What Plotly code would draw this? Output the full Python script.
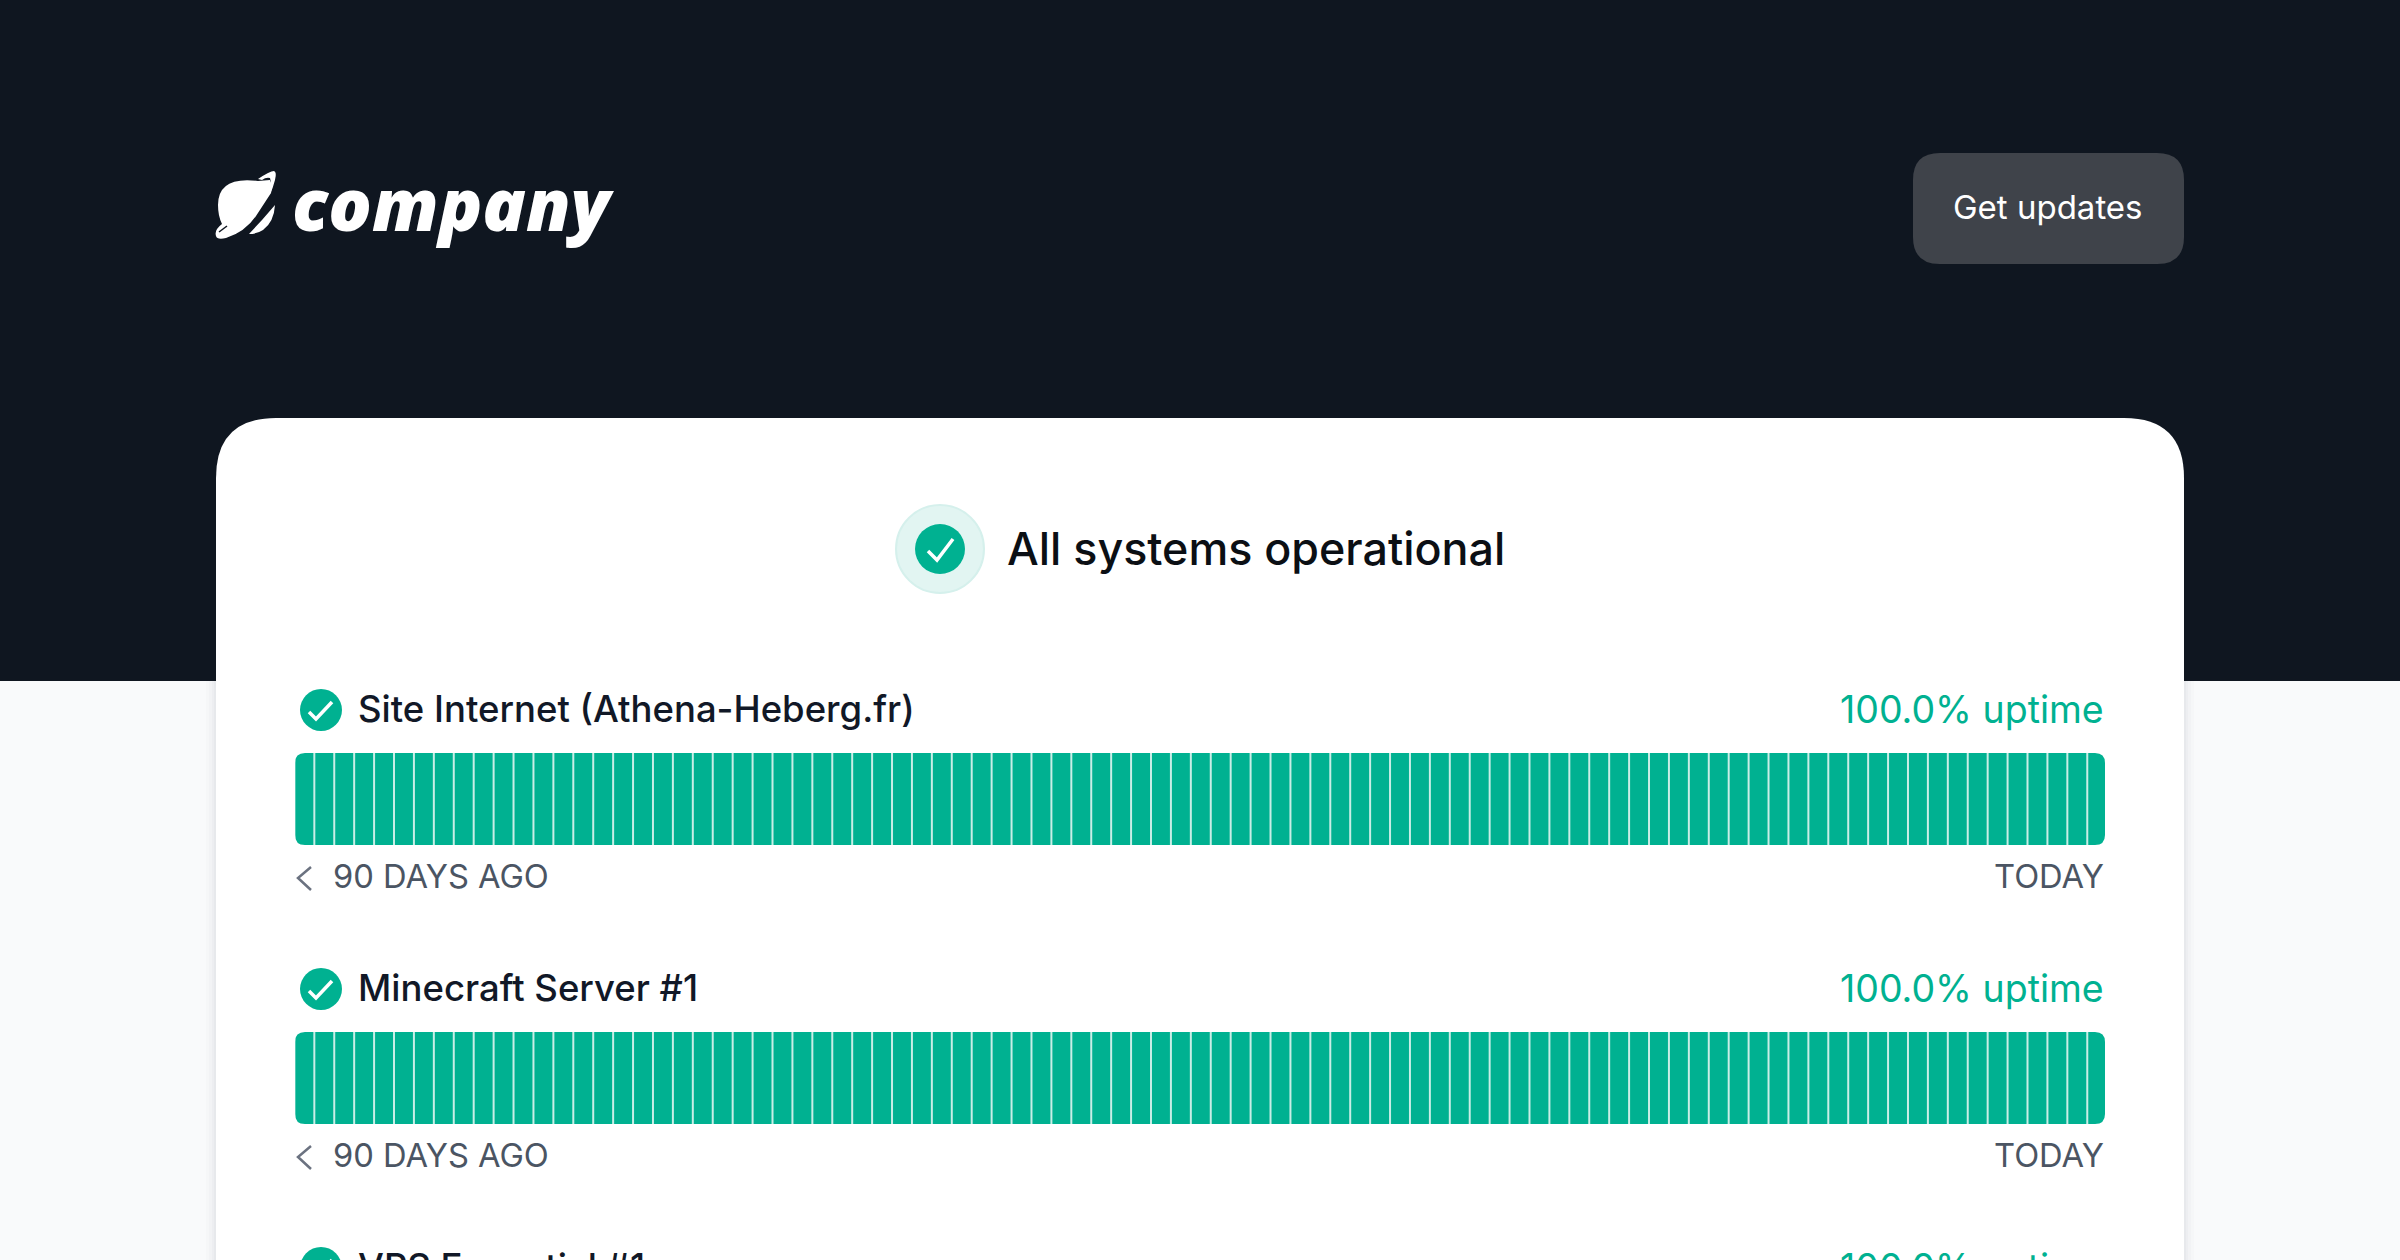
import plotly.graph_objects as go

W, H = 2400, 1260

# status page values
services = ["Site Internet (Athena-Heberg.fr)", "Minecraft Server #1", "VPS Essential #1"]
uptime_labels = ["100.0% uptime", "100.0% uptime", "100.0% uptime"]
days = list(range(1, 92))
site_uptime = [
    100, 100, 100, 100, 100, 100, 100, 100, 100, 100,
    100, 100, 100, 100, 100, 100, 100, 100, 100, 100,
    100, 100, 100, 100, 100, 100, 100, 100, 100, 100,
    100, 100, 100, 100, 100, 100, 100, 100, 100, 100,
    100, 100, 100, 100, 100, 100, 100, 100, 100, 100,
    100, 100, 100, 100, 100, 100, 100, 100, 100, 100,
    100, 100, 100, 100, 100, 100, 100, 100, 100, 100,
    100, 100, 100, 100, 100, 100, 100, 100, 100, 100,
    100, 100, 100, 100, 100, 100, 100, 100, 100, 100,
    100,
]
minecraft_uptime = [
    100, 100, 100, 100, 100, 100, 100, 100, 100, 100,
    100, 100, 100, 100, 100, 100, 100, 100, 100, 100,
    100, 100, 100, 100, 100, 100, 100, 100, 100, 100,
    100, 100, 100, 100, 100, 100, 100, 100, 100, 100,
    100, 100, 100, 100, 100, 100, 100, 100, 100, 100,
    100, 100, 100, 100, 100, 100, 100, 100, 100, 100,
    100, 100, 100, 100, 100, 100, 100, 100, 100, 100,
    100, 100, 100, 100, 100, 100, 100, 100, 100, 100,
    100, 100, 100, 100, 100, 100, 100, 100, 100, 100,
    100,
]

GREEN = "#00b191"
DARK = "#0f1620"
GREY = "#4b5563"
FONT = "Inter"

BAR_L, BAR_R = 295, 2105
BAR_H = 92
ROW_STEP = 279


def px(x):
    return x / W


def py(y):
    return 1 - y / H


def path(*points, close=True):
    # points in page pixels, 4-tuples are quadratic segments
    out = ""
    for i, p in enumerate(points):
        if len(p) == 4:
            out += f" Q {px(p[0])} {py(p[1])} {px(p[2])} {py(p[3])}"
        else:
            out += f" {'M' if i == 0 else 'L'} {px(p[0])} {py(p[1])}"
    return out.strip() + (" Z" if close else "")


def fill_shape(d, color, layer="above", opacity=1):
    return dict(type="path", xref="paper", yref="paper", path=d, fillcolor=color,
                line_width=0, layer=layer, opacity=opacity)


def line_shape(d, color, width):
    return dict(type="path", xref="paper", yref="paper", path=d,
                line=dict(color=color, width=width), layer="above")


def circle(cx, cy, r, color, line=None):
    return dict(type="circle", xref="paper", yref="paper",
                x0=px(cx - r), x1=px(cx + r), y0=py(cy + r), y1=py(cy - r),
                fillcolor=color, layer="above",
                line=dict(color=line or color, width=2 if line else 0))


def label(x, y, text, size, color, anchor="left", weight=400, family=FONT, italic=False):
    return dict(xref="paper", yref="paper", x=px(x), y=py(y), text=text, showarrow=False,
                xanchor=anchor, yanchor="middle", align=anchor,
                font=dict(family=family, size=size, color=color, weight=weight,
                          style="italic" if italic else "normal"))


shapes = []
annotations = []

# header band + card
shapes.append(fill_shape(path((0, 0), (W, 0), (W, 681), (0, 681)), DARK, layer="below"))
for grow, alpha in [(10, 0.01), (7, 0.014), (4, 0.02), (2, 0.025)]:
    shapes.append(fill_shape(path((216 - grow, 681), (2184 + grow, 681), (2184 + grow, H), (216 - grow, H)),
                             "#111827", layer="below", opacity=alpha))
shapes.append(fill_shape(path((216, H), (216, 478), (216, 418, 276, 418), (2124, 418), (2184, 418, 2184, 478), (2184, H)),
                         "#ffffff", layer="below"))

# logo
shapes.append(fill_shape(path((258, 181), (218, 176, 218, 205), (218, 216, 222, 224), (214, 230, 216, 236),
                              (217, 240, 226, 238), (245, 232, 256, 216), (271, 193), (273, 186, 270, 180)),
                         "#ffffff"))
shapes.append(fill_shape(path((258, 179), (270, 171, 274, 171), (277, 172, 275, 180), (273, 188, 270, 194),
                              (272, 184, 270, 178), (266, 177, 262, 180)), "#ffffff"))
shapes.append(line_shape(path((219, 232), (227, 226), close=False), DARK, 1.5))
shapes.append(fill_shape(path((249, 234), (262, 220), (275, 205), (274, 222, 263, 230), (257, 234, 249, 234)),
                         "#ffffff"))
annotations.append(label(290, 203, "company", 72, "#ffffff", weight=800, family="Open Sans", italic=True))

# button
shapes.append(fill_shape(path((1940, 153), (2157, 153), (2184, 153, 2184, 180), (2184, 237), (2184, 264, 2157, 264),
                              (1940, 264), (1913, 264, 1913, 237), (1913, 180), (1913, 153, 1940, 153)), "#3f434a"))
annotations.append(label(2048, 207, "Get updates", 33, "#ffffff", anchor="center", weight=400))

# overall status
shapes.append(circle(940, 549, 44, "#e2f5f2", line="#d5f0ec"))
shapes.append(circle(940, 549, 25, GREEN))
shapes.append(line_shape(path((928, 551), (937, 560), (953, 539), close=False), "#ffffff", 3.5))
annotations.append(label(1005, 549, "All systems operational", 44.8, "#0b0f14", weight=500))

fig = go.Figure()
rows = [site_uptime, minecraft_uptime]

for i, name in enumerate(services):
    off = i * ROW_STEP
    shapes.append(circle(321, 710 + off, 21, GREEN))
    shapes.append(line_shape(path((309, 712 + off), (316, 719 + off), (332, 702 + off), close=False), "#ffffff", 3.5))
    annotations.append(label(356, 709 + off, name, 36.5, "#111827", weight=500))
    annotations.append(label(2106, 709 + off, uptime_labels[i], 37.5, GREEN, anchor="right", weight=400))

for i, values in enumerate(rows):
    off = i * ROW_STEP
    top = 753 + off
    bot = top + BAR_H
    suffix = "" if i == 0 else str(i + 1)
    # pale strip behind the bars, shows through the gaps
    shapes.append(fill_shape(path((BAR_L, top), (BAR_R, top), (BAR_R, bot), (BAR_L, bot)), "#c8eee6", layer="below"))
    fig.add_trace(go.Bar(x=days, y=values, marker_color=GREEN, marker_line_width=0,
                         xaxis="x" + suffix, yaxis="y" + suffix, showlegend=False))
    fig.layout["xaxis" + suffix] = dict(domain=[px(BAR_L), px(BAR_R)], range=[0.53, 91.39], visible=False,
                                        anchor="y" + suffix, fixedrange=True)
    fig.layout["yaxis" + suffix] = dict(domain=[py(bot), py(top)], range=[0, 100], visible=False,
                                        anchor="x" + suffix, fixedrange=True)

    # round off the outer corners of the strip
    r = 10
    for cx, sx in [(BAR_L, 1), (BAR_R, -1)]:
        for cy, sy in [(top, 1), (bot, -1)]:
            shapes.append(fill_shape(path((cx - sx, cy - sy), (cx + sx * r, cy - sy), (cx + sx * r, cy),
                                          (cx, cy, cx, cy + sy * r), (cx - sx, cy + sy * r)), "#ffffff"))

    shapes.append(line_shape(path((311, 867 + off), (298, 878 + off), (311, 890 + off), close=False), "#6b7280", 2.5))
    annotations.append(label(331, 876 + off, "90 DAYS AGO", 32.7, GREY))
    annotations.append(label(2106, 876 + off, "TODAY", 32.7, GREY, anchor="right"))

fig.update_layout(
    width=W,
    height=H,
    margin=dict(l=0, r=0, t=0, b=0),
    paper_bgcolor="#f9fafb",
    plot_bgcolor="rgba(0,0,0,0)",
    bargap=0.1,
    shapes=shapes,
    annotations=annotations,
)

fig.write_html("out.html", config={"displayModeBar": False},
               post_script="document.body.style.margin='0';document.body.style.overflow='hidden';")
